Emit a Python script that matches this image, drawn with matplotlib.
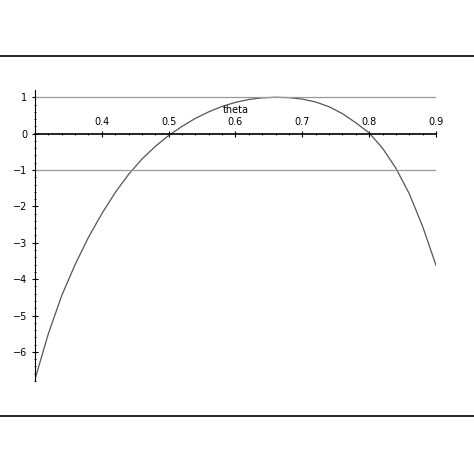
import numpy as np
import matplotlib.pyplot as plt

# values
theta = [0.30, 0.32, 0.34, 0.36, 0.38, 0.40, 0.42, 0.44, 0.46, 0.48, 0.50, 0.52, 0.54,
         0.56, 0.58, 0.60, 0.62, 0.64, 0.66, 0.68, 0.70, 0.72, 0.74, 0.76, 0.78, 0.80,
         0.82, 0.84, 0.86, 0.88, 0.90]
f = [-6.75, -5.50, -4.45, -3.60, -2.85, -2.20, -1.62, -1.12, -0.70, -0.35, -0.05, 0.20, 0.42,
     0.60, 0.75, 0.86, 0.94, 0.985, 1.00, 0.99, 0.95, 0.87, 0.74, 0.55, 0.30, 0.02,
     -0.40, -0.95, -1.65, -2.55, -3.62]
ref_levels = [1, -1]
xticks = [0.4, 0.5, 0.6, 0.7, 0.8, 0.9]
yticks = [1, 0, -1, -2, -3, -4, -5, -6]

fig = plt.figure(figsize=(4.74, 4.74), dpi=100)
fig.add_artist(plt.Line2D([0, 1], [1 - 56 / 474] * 2, color='black', lw=1.2))
fig.add_artist(plt.Line2D([0, 1], [1 - 416 / 474] * 2, color='black', lw=1.2))

ax = fig.add_axes([35 / 474, 1 - 381 / 474, (436 - 35) / 474, (381 - 90) / 474])
ax.plot(theta, f, color='#555555', lw=0.9)
for lv in ref_levels:
    ax.plot([theta[0], theta[-1]], [lv, lv], color='#999999', lw=0.9)
ax.set_xlim(0.3, 0.9)
ax.set_ylim(-6.8, 1.2)

for s in ['top', 'right']:
    ax.spines[s].set_visible(False)
ax.spines['bottom'].set_position(('data', 0))
ax.spines['left'].set_position(('data', 0.3))
ax.spines['bottom'].set_linewidth(1.2)
ax.set_xticks(xticks)
ax.set_yticks(yticks)
ax.set_xticks(np.arange(0.32, 0.9, 0.02), minor=True)
ax.set_yticks(np.arange(-6.8, 1.2, 0.2), minor=True)
ax.set_xticklabels([str(t) for t in xticks])
ax.set_yticklabels(['−' + str(-t) if t < 0 else str(t) for t in yticks])
ax.tick_params(axis='x', direction='inout', labelsize=7, pad=-14, length=4)
ax.tick_params(axis='x', which='minor', direction='inout', length=2)
ax.tick_params(axis='y', direction='inout', labelsize=7, length=4)
ax.tick_params(axis='y', which='minor', direction='inout', length=2)
ax.text(0.6, 0.5, 'theta', fontsize=7, ha='center', va='bottom')

fig.savefig('out.png', dpi=100)
